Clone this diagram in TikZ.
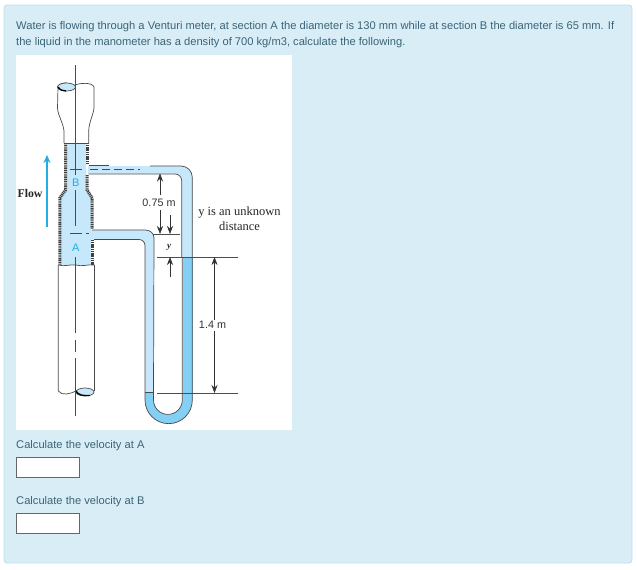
\documentclass[tikz,border=0pt]{standalone}
\usepackage{fontspec}
\setmainfont{Liberation Sans}
\newfontfamily\serifname{Liberation Serif}
\usetikzlibrary{arrows.meta}
\definecolor{panel}{HTML}{D9EDF7}
\definecolor{panelb}{HTML}{BCDFF1}
\definecolor{ink}{HTML}{3B6478}
\definecolor{water}{HTML}{C6E8FA}
\definecolor{liquid}{HTML}{84D0F5}
\definecolor{cyanar}{HTML}{22AEE0}
\definecolor{pipe}{HTML}{4A4A4A}
\tikzset{
  x=1pt,y=-1pt,
  bodytext/.style={font=\fontsize{11.15}{13}\selectfont,text=ink,anchor=west,inner sep=0pt},
  captext/.style={text=black!85,inner sep=0pt},
  dimtext/.style={font=\fontsize{10.8}{12}\selectfont,text=black!80,inner sep=0pt},
  lettertext/.style={font=\fontsize{11}{12}\selectfont,text=cyanar,inner sep=0pt},
  pipeline/.style={draw=pipe,line width=0.7pt},
  levelline/.style={draw=black!70,line width=0.6pt},
  wallhatch/.style={draw=black!75,line width=3pt,dash pattern=on 1.1pt off 0.7pt},
  dimarrow/.style={draw=black!80,line width=0.6pt,-{Stealth[length=8pt,width=6pt]}},
  answerbox/.style={draw=black!60,fill=white,line width=0.8pt,minimum width=62.5pt,minimum height=19.5pt,inner sep=0pt},
}
\begin{document}
\begin{tikzpicture}
\useasboundingbox (0,0) rectangle (637,570);
\fill[white] (0,0) rectangle (637,570);
\draw[fill=panel,draw=panelb,line width=0.8pt,rounded corners=3pt] (4,5) rectangle (632,563);
\fill[white] (16,55) rectangle (292,430);

\node[bodytext] (line1) at (16,26.5) {Water is flowing through a Venturi meter, at section A the diameter is 130 mm while at section B the diameter is 65 mm. If};
\node[bodytext] (line2) at (16,42.5) {the liquid in the manometer has a density of 700 kg/m3, calculate the following.};
\node[bodytext] (qa) at (16,445.5) {Calculate the velocity at A};
\node[bodytext] (qb) at (16,501.5) {Calculate the velocity at B};
\node[answerbox,anchor=north west] (boxa) at (16.3,457.3) {};
\node[answerbox,anchor=north west] (boxb) at (16.3,513.3) {};

% manometer liquid
\fill[water] (88,166) -- (181,166) arc[start angle=90,end angle=0,radius=11.5pt] -- (192.5,257) -- (182,257) -- (182,180.5) arc[start angle=0,end angle=90,radius=7pt] -- (88,173.5) -- cycle;
\fill[water] (90,230) -- (146,230) arc[start angle=90,end angle=0,radius=8pt] -- (153.5,393) -- (145,393) -- (145,246) arc[start angle=0,end angle=90,radius=6.5pt] -- (90,239.5) -- cycle;
\fill[liquid] (182.5,257) rectangle (192.5,393);
\fill[liquid] (145,393) -- (153.5,393) -- (153.5,400) arc[start angle=180,end angle=360,radius=14.5pt] -- (182.5,393) -- (192.5,393) -- (192.5,400) arc[start angle=360,end angle=180,radius=23.75pt] -- cycle;

% venturi water
\fill[water] (67,143) -- (86,143) -- (86,190) -- (91,198) -- (91,265) -- (60,265) -- (60,198) -- (67,190) -- cycle;

% venturi walls
\draw[wallhatch] (65.5,143) -- (65.5,190) -- (59.8,198) -- (59.8,265);
\draw[wallhatch] (87,143) -- (87,164);
\draw[wallhatch] (87,175) -- (87,190) -- (92.2,198) -- (92.2,229);
\draw[wallhatch] (92.2,240) -- (92.2,265);
\draw[pipeline] (64,143) -- (89,143);

% pipe outlines
\draw[pipeline] (58,87) -- (57.5,108) .. controls (58,116) and (63,122) .. (64,131) -- (64,143);
\draw[pipeline] (58,87) .. controls (60,83) and (63,83) .. (67,83);
\draw[pipeline] (75,85) .. controls (80,83) and (92,82) .. (94,87) -- (94,108) .. controls (93,116) and (89,122) .. (88.7,131) -- (88.7,143);
\draw[pipeline,fill=water] (66.5,87) ellipse[x radius=9,y radius=4];
\draw[black,line width=1.3pt] (58,87) .. controls (60,90) and (63,91) .. (66,91);
\draw[pipeline] (58.3,265) -- (58.3,391) .. controls (62,396) and (70,394) .. (76,391);
\draw[pipeline] (94.5,265) -- (94.5,391);
\draw[pipeline] (58.3,265) .. controls (65,267) and (70,264) .. (76,265) .. controls (82,267) and (88,264) .. (94.5,265);
\draw[pipeline,fill=water] (85,392) ellipse[x radius=9,y radius=4];
\draw[black,line width=1.3pt] (76,391) .. controls (78,395) and (83,396) .. (90,395.5);

% axis
\draw[pipeline] (75.8,65) -- (75.8,175);
\draw[pipeline] (75.8,190) -- (75.8,226);
\draw[pipeline] (75.8,257) -- (75.8,333);
\draw[pipeline] (75.8,340) -- (75.8,352);
\draw[pipeline] (75.8,358) -- (75.8,416);
\draw[pipeline] (70,169) -- (82,169);
\draw[pipeline] (70,233.5) -- (82,233.5);
\draw[black!70,line width=0.7pt] (86,233.5) -- (89,233.5);
\node[lettertext] (lb) at (75.8,183) {B};
\node[lettertext] (la) at (75.8,248) {A};

% upper tap
\draw[pipeline] (88.7,165) -- (109,165);
\draw[pipeline] (88.7,174) -- (175,174) arc[start angle=90,end angle=0,radius=6.7pt] -- (181.7,257);
\draw[pipeline,dash pattern=on 8pt off 4pt] (90,169.5) -- (140,169.5);
\draw[pipeline] (150,166) -- (181,166) arc[start angle=90,end angle=0,radius=11.3pt] -- (192.3,393);
% lower tap
\draw[pipeline] (92.2,230) -- (145,230) .. controls (150,230) and (154,233) .. (154,238) -- (153.5,393);
\draw[pipeline] (94,239.5) -- (139,239.5) arc[start angle=90,end angle=0,radius=6pt] -- (145,393);
\draw[pipeline] (145,393) -- (145,400) arc[start angle=180,end angle=360,radius=23.65pt] -- (192.3,393);
\draw[pipeline] (153.5,393) -- (153.5,400) arc[start angle=180,end angle=360,radius=14.4pt] -- (182.3,393) -- (182.3,257);
\draw[pipeline] (145,392.5) -- (153.5,392.5);

% level lines
\draw[levelline] (157,257) -- (238,257);
\draw[levelline] (157,393) -- (238,393);
\draw[levelline] (153,234) -- (180,234);

% dimensions
\node[dimtext] (d75) at (159,203) {0.75 m};
\node[dimtext] (d14) at (212.5,325) {1.4 m};
\coordinate (t0) at (160,195);
\coordinate (t1) at (160,173.5);
\coordinate (b0) at (160,210);
\coordinate (b1) at (160,234);
\coordinate (y1) at (170,215);
\coordinate (y2) at (170,234);
\coordinate (y3) at (170,277);
\coordinate (y4) at (170,257);
\coordinate (h0) at (214.5,320);
\coordinate (h1) at (214.5,257);
\coordinate (h3) at (214.5,331);
\coordinate (h2) at (214.5,393);
\draw[dimarrow] (t0) -- (t1);
\draw[dimarrow] (b0) -- (b1);
\draw[dimarrow] (y1) -- (y2);
\draw[dimarrow] (y3) -- (y4);
\draw[dimarrow] (h0) -- (h1);
\draw[dimarrow] (h3) -- (h2);
\node[captext,font=\serifname\itshape\bfseries\fontsize{9}{10}\selectfont] (yl) at (169,247) {y};

\node[captext,align=center,font=\serifname\fontsize{12.5}{15}\selectfont] (unk) at (239.5,219) {y is an unknown\\distance};
\node[captext,font=\serifname\bfseries\fontsize{11.8}{13}\selectfont] (flow) at (30,193) {Flow};

% flow arrow
\coordinate (fa) at (47,227);
\coordinate (fb) at (47,155);
\draw[cyanar,line width=1.1pt,-{Stealth[length=8pt,width=7pt]}] (fa) -- (fb);
\end{tikzpicture}
\end{document}
